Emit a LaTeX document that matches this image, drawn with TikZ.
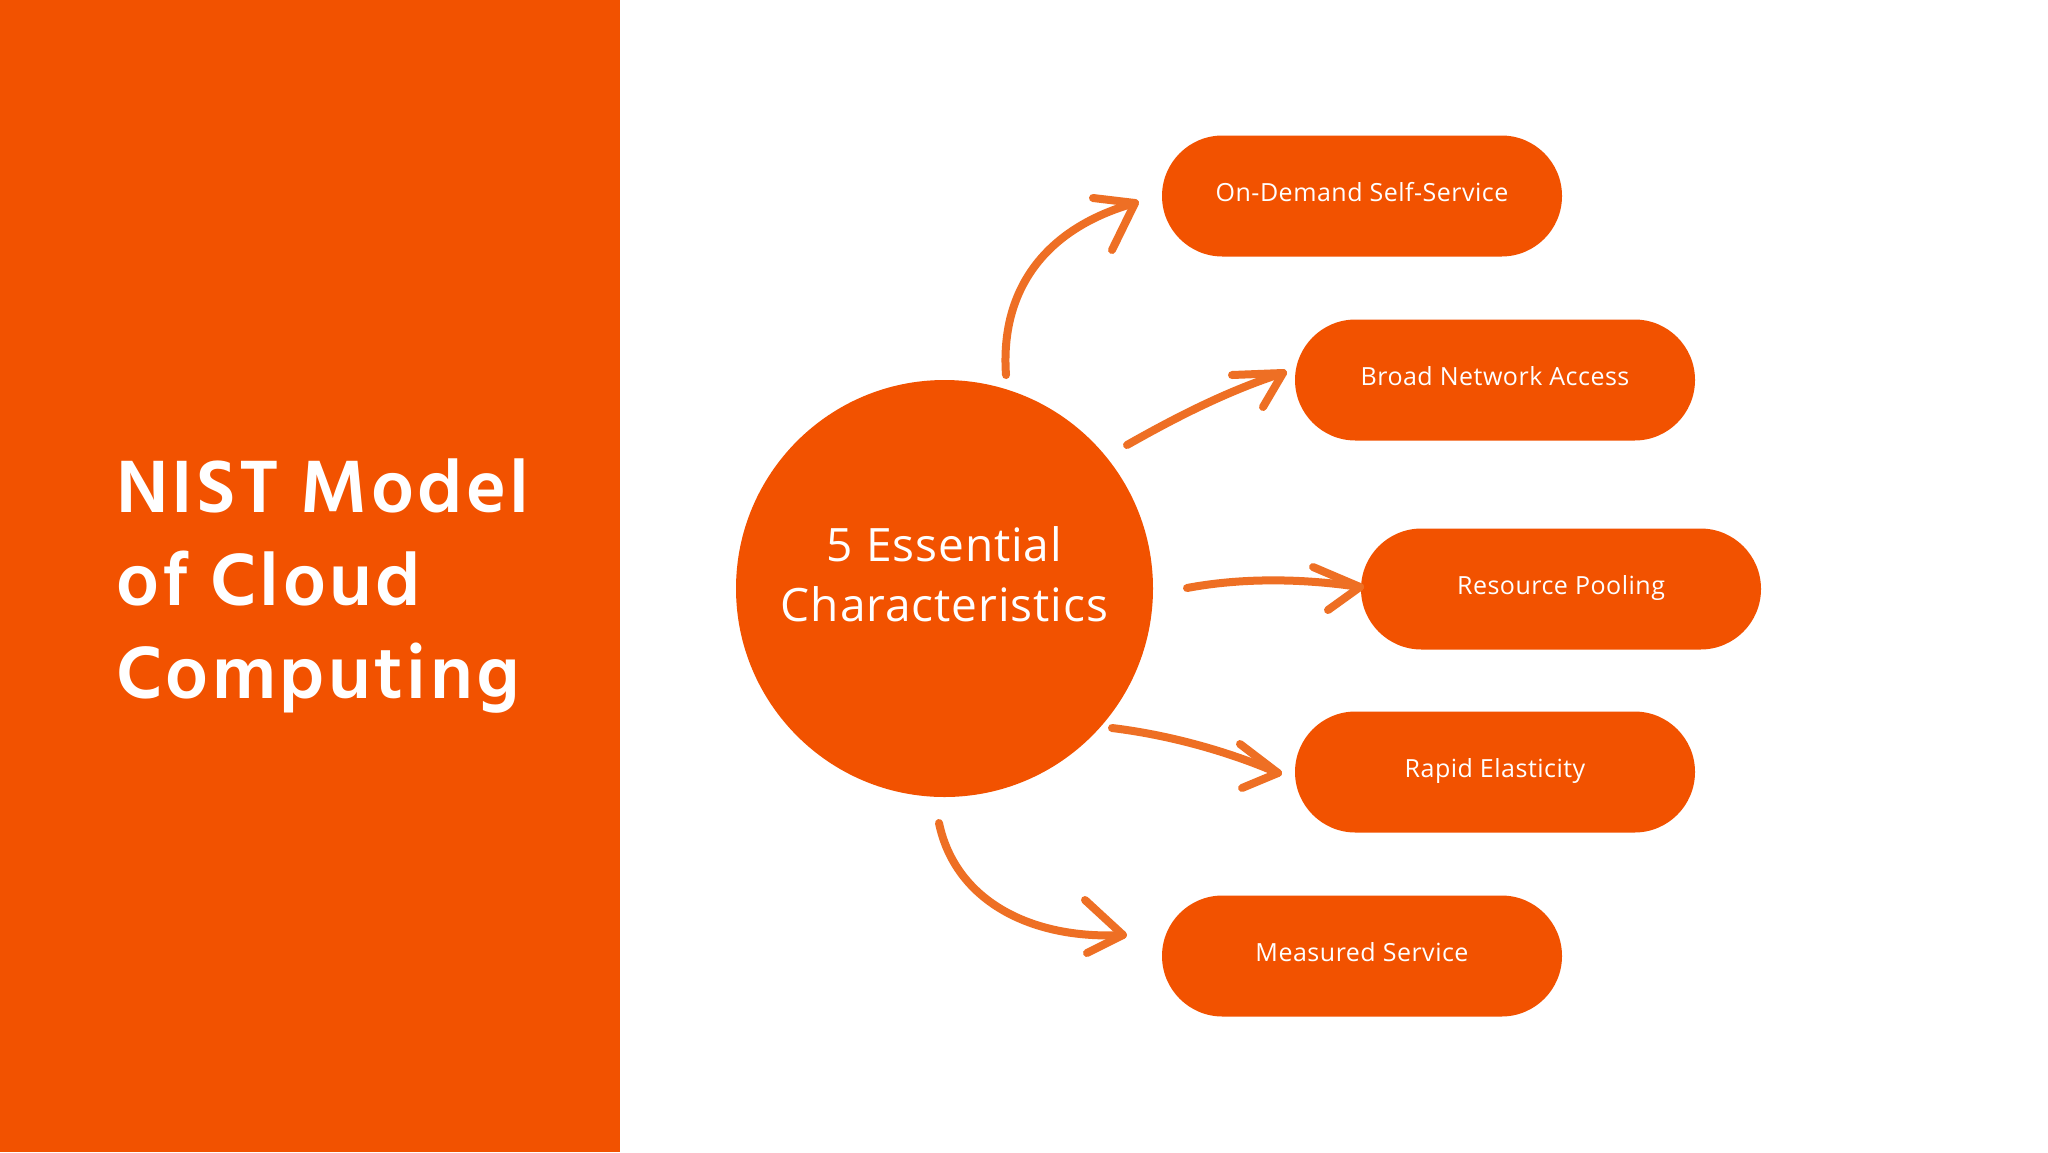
\documentclass[tikz,border=0pt]{standalone}
\usepackage{fontspec}
\setmainfont{Open Sans}[LetterSpace=2]
\newfontfamily\titlefont{Hind Siliguri}[LetterSpace=4.5]
\usetikzlibrary{shapes.misc}
\definecolor{brand}{HTML}{F25200}
\definecolor{arrowc}{HTML}{EE6F24}
\begin{document}
\begin{tikzpicture}[x=1pt,y=-1pt,
  pill/.style={rounded rectangle, fill=brand, minimum width=400pt, minimum height=121pt,
    inner sep=0pt, text=white, font=\fontsize{25}{30}\selectfont, text height=18pt, text depth=8pt},
  hub/.style={circle, fill=brand, minimum size=417pt, inner sep=0pt},
  hubtext/.style={text=white, font=\fontsize{46}{54}\selectfont, inner sep=0pt, anchor=base},
  titletext/.style={text=white, font=\titlefont\bfseries\fontsize{76}{90}\selectfont, inner sep=0pt, anchor=base west},
  link/.style={draw=arrowc, line width=8pt, line cap=round, line join=round}]
\useasboundingbox (0,0) rectangle (2048,1152);
\fill[white] (0,0) rectangle (2048,1152);
\node[fill=brand, minimum width=620pt, minimum height=1152pt, inner sep=0pt, anchor=north west] (panel) at (0,0) {};
\node[titletext] (t1) at (116,512) {NIST Model};
\node[titletext] (t2) at (116,605) {of Cloud};
\node[titletext] (t3) at (116,698) {Computing};
\node[hub] (hub) at (944.5,588.5) {};
\node[hubtext] (h1) at (944.5,561) {5 Essential};
\node[hubtext] (h2) at (944.5,621) {Characteristics};
\node[pill] (p1) at (1362,196) {On-Demand Self-Service};
\node[pill] (p2) at (1495,380) {Broad Network Access};
\node[pill] (p3) at (1561,589) {Resource Pooling};
\node[pill] (p4) at (1495,772) {Rapid Elasticity};
\node[pill] (p5) at (1362,956) {Measured Service};
% arrow 1
\coordinate (a1s) at (1006,375);
\coordinate (a1t) at (1135,203);
\coordinate (a1u) at (1093,198);
\coordinate (a1d) at (1112,250);
\draw[link] (a1s) .. controls (1000,290) and (1045,228) .. (a1t);
\draw[link] (a1u) -- (a1t) -- (a1d);
% arrow 2
\coordinate (a2s) at (1127,445);
\coordinate (a2t) at (1283,373);
\coordinate (a2u) at (1232,375);
\coordinate (a2d) at (1263,407);
\draw[link] (a2s) .. controls (1180,415) and (1230,390) .. (a2t);
\draw[link] (a2u) -- (a2t) -- (a2d);
% arrow 3
\coordinate (a3s) at (1187,588);
\coordinate (a3t) at (1360,587);
\coordinate (a3u) at (1313,567);
\coordinate (a3d) at (1328,610);
\draw[link] (a3s) .. controls (1240,578) and (1300,578) .. (a3t);
\draw[link] (a3u) -- (a3t) -- (a3d);
% arrow 4
\coordinate (a4s) at (1112,728);
\coordinate (a4t) at (1278,773);
\coordinate (a4u) at (1240,744);
\coordinate (a4d) at (1242,788);
\draw[link] (a4s) .. controls (1170,735) and (1230,752) .. (a4t);
\draw[link] (a4u) -- (a4t) -- (a4d);
% arrow 5
\coordinate (a5s) at (939,823);
\coordinate (a5t) at (1123,935);
\coordinate (a5u) at (1085,900);
\coordinate (a5d) at (1087,953);
\draw[link] (a5s) .. controls (955,900) and (1030,940) .. (a5t);
\draw[link] (a5u) -- (a5t) -- (a5d);
\end{tikzpicture}
\end{document}
